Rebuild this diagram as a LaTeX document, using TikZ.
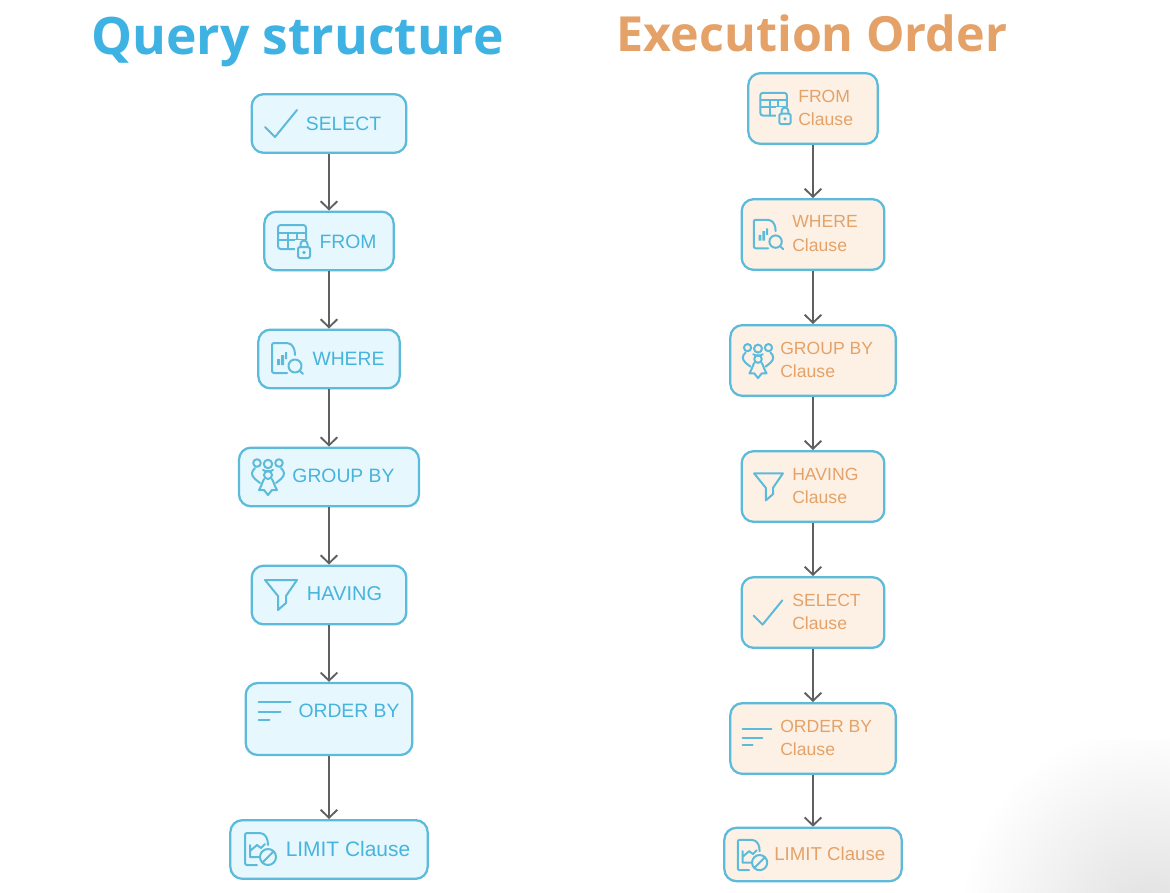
\documentclass[tikz,border=0pt]{standalone}
\usepackage{fontspec}
\setmainfont{Liberation Sans}
\newfontfamily\titlefont{Open Sans}
\usetikzlibrary{arrows.meta}
\definecolor{c1}{RGB}{62,178,226}
\definecolor{c2}{RGB}{228,162,104}
\definecolor{c3}{RGB}{92,186,218}
\definecolor{c4}{RGB}{230,247,253}
\definecolor{c5}{RGB}{253,241,230}
\definecolor{c6}{RGB}{96,96,96}
\definecolor{c7}{RGB}{70,180,220}
\tikzset{
  qbox/.style={draw=c3,fill=c4,line width=1.7pt,rounded corners=9pt,inner sep=0pt},
  ebox/.style={qbox,fill=c5},
  qtext/.style={text=c7,font=\fontsize{14.5}{17}\selectfont,inner sep=0pt},
  etext/.style={text=c2,font=\fontsize{13.2}{17.3}\selectfont,inner sep=0pt,align=left,anchor=west},
  flow/.style={c6,line width=1.7pt,-{Straight Barb[length=6pt,width=12.5pt,line width=1.4pt]}},
  ico/.style={draw=c3,line width=1.5pt,line join=round,line cap=round},
  icopatch/.style={fill=c4},
  iconcheck/.pic={
    \draw[ico] (-16,4) -- (-6,14) -- (16,-13);
  },
  icontable/.pic={
    \draw[ico,rounded corners=2pt] (-16,-16) rectangle (12,8);
    \draw[ico] (-16,-8) -- (12,-8) (-16,-1) -- (12,-1) (-6,-8) -- (-6,8) (3,-8) -- (3,8);
    \path[icopatch] (1,-1) rectangle (19,19);
    \draw[ico,rounded corners=1.5pt] (4,6) rectangle (16,17);
    \draw[ico] (6.5,6) -- (6.5,3) arc (180:360:3.5) -- (13.5,6);
    \fill[c3] (10,11.5) circle (1.8);
  },
  iconreport/.pic={
    \draw[ico,rounded corners=1.5pt] (0,15) -- (-15,15) -- (-15,-15) -- (2,-15) .. controls (6,-12) and (8,-9) .. (8,-3);
    \fill[c3] (-10,1) rectangle (-7,7) (-6,-3) rectangle (-3,7) (-2,-6) rectangle (0,1);
    \draw[ico] (8,8) circle (6.5) (13,13) -- (16,16);
  },
  iconpeople/.pic={
    \draw[ico] (-11,-13) circle (3.8) (11,-13) circle (3.8) (0,-12) circle (4.2) (0,-1) circle (4);
    \draw[ico] (-5,-6) .. controls (-1,-4) and (1,-4) .. (5,-6);
    \draw[ico] (-13,-8) .. controls (-17,-4) and (-17,-1) .. (-13,3) -- (-8,7);
    \draw[ico] (13,-8) .. controls (17,-4) and (17,-1) .. (13,3) -- (8,7);
    \draw[ico] (-4,3) .. controls (-6,7) and (-7,11) .. (-9,14) -- (-4,14) -- (0,19) -- (4,14) -- (9,14) .. controls (7,11) and (6,7) .. (4,3);
  },
  iconfunnel/.pic={
    \draw[ico] (-16,-14) -- (16,-14) -- (5,2) -- (5,9) -- (-3,16) -- (-3,2) -- cycle;
  },
  iconsort/.pic={
    \draw[ico] (-16,-9) -- (16,-9) (-16,1) -- (6,1) (-16,9) -- (-5,9);
  },
  iconlimit/.pic={
    \draw[ico,rounded corners=1.5pt] (-3,16) -- (-15,16) -- (-15,-16) -- (2,-16) .. controls (6,-13) and (8,-10) .. (8,-4);
    \draw[ico] (-10,-4) -- (-10,8) -- (-1,8) (-10,2) -- (-3,-4) -- (1,-1) -- (5,-5);
    \draw[ico] (8,8) circle (8) (3,13) -- (13,3);
  },
}
\begin{document}
\begin{tikzpicture}[x=0.75pt,y=-0.75pt]
\useasboundingbox (0,0) rectangle (1170,892);
\fill[white] (0,0) rectangle (1170,892);
\begin{scope}
\clip (960,740) rectangle (1170,892);
\shade[inner color=black!12,outer color=white] (1150,915) circle (190);
\end{scope}
% titles
\node[text=c1,font=\titlefont\bfseries\fontsize{38.7}{42}\selectfont,inner sep=0pt] (qtitle) at (297.5,42) {Query structure};
\node[text=c2,font=\titlefont\bfseries\fontsize{36.3}{42}\selectfont,inner sep=0pt] (etitle) at (812,33) {Execution Order};
% query structure
\node[qbox,minimum width=116pt,minimum height=44pt] (qselect) at (329,123.5) {};
\node[qbox,minimum width=97pt,minimum height=44pt] (qfrom) at (329,241) {};
\node[qbox,minimum width=106pt,minimum height=44pt] (qwhere) at (329,359) {};
\node[qbox,minimum width=135pt,minimum height=44pt] (qgroup) at (329,477) {};
\node[qbox,minimum width=116pt,minimum height=44pt] (qhaving) at (329,595) {};
\node[qbox,minimum width=125pt,minimum height=54pt] (qorder) at (329,719) {};
\node[qbox,minimum width=148pt,minimum height=44pt] (qlimit) at (329,849.5) {};
\node[qtext] (tselect) at (343.5,123.5) {SELECT};
\node[qtext] (tfrom) at (348,241.5) {FROM};
\node[qtext] (twhere) at (348.5,358.5) {WHERE};
\node[qtext] (tgroup) at (343.5,476) {GROUP BY};
\node[qtext,font=\fontsize{15}{17}\selectfont] (thaving) at (344.5,594) {HAVING};
\node[qtext] (torder) at (349,711) {ORDER BY};
\node[qtext,font=\fontsize{15.7}{17}\selectfont] (tlimit) at (348,849) {LIMIT Clause};
\pic at (281,123) {iconcheck};
\pic at (294,241) {icontable};
\pic at (287,358) {iconreport};
\pic at (268,476) {iconpeople};
\pic at (281,594) {iconfunnel};
\pic at (274.5,711) {iconsort};
\pic at (260,849) {iconlimit};
\draw[flow] (qselect) -- (qfrom);
\draw[flow] (qfrom) -- (qwhere);
\draw[flow] (qwhere) -- (qgroup);
\draw[flow] (qgroup) -- (qhaving);
\draw[flow] (qhaving) -- (qorder);
\draw[flow] (qorder) -- (qlimit);
% execution order
\node[ebox,minimum width=97pt,minimum height=53pt] (efrom) at (813,108.5) {};
\node[ebox,minimum width=107pt,minimum height=53pt] (ewhere) at (813,234.5) {};
\node[ebox,minimum width=124pt,minimum height=53pt] (egroup) at (813,360.5) {};
\node[ebox,minimum width=107pt,minimum height=53pt] (ehaving) at (813,486.5) {};
\node[ebox,minimum width=107pt,minimum height=53pt] (eselect) at (813,612.5) {};
\node[ebox,minimum width=124pt,minimum height=53pt] (eorder) at (813,738.5) {};
\node[ebox,minimum width=133pt,minimum height=40pt] (elimit) at (813,854.5) {};
\node[etext] (ffrom) at (798,107.5) {FROM\\Clause};
\node[etext] (fwhere) at (792,233.5) {WHERE\\Clause};
\node[etext] (fgroup) at (780,359.5) {GROUP BY\\Clause};
\node[etext] (fhaving) at (792,485.5) {HAVING\\Clause};
\node[etext] (fselect) at (792,611.5) {SELECT\\Clause};
\node[etext] (forder) at (780,737.5) {ORDER BY\\Clause};
\node[etext,font=\fontsize{14}{17}\selectfont] (flimit) at (774,854) {LIMIT Clause};
\pic[scale=.95,icopatch/.style={fill=c5}] at (775.5,108) {icontable};
\pic[scale=.95] at (768,234) {iconreport};
\pic[scale=.95] at (758,360) {iconpeople};
\pic[scale=.9] at (768.5,486) {iconfunnel};
\pic[scale=.9] at (768,612) {iconcheck};
\pic[scale=.9] at (757,737) {iconsort};
\pic[scale=.95] at (752,855) {iconlimit};
\draw[flow] (efrom) -- (ewhere);
\draw[flow] (ewhere) -- (egroup);
\draw[flow] (egroup) -- (ehaving);
\draw[flow] (ehaving) -- (eselect);
\draw[flow] (eselect) -- (eorder);
\draw[flow] (eorder) -- (elimit);
\end{tikzpicture}
\end{document}
